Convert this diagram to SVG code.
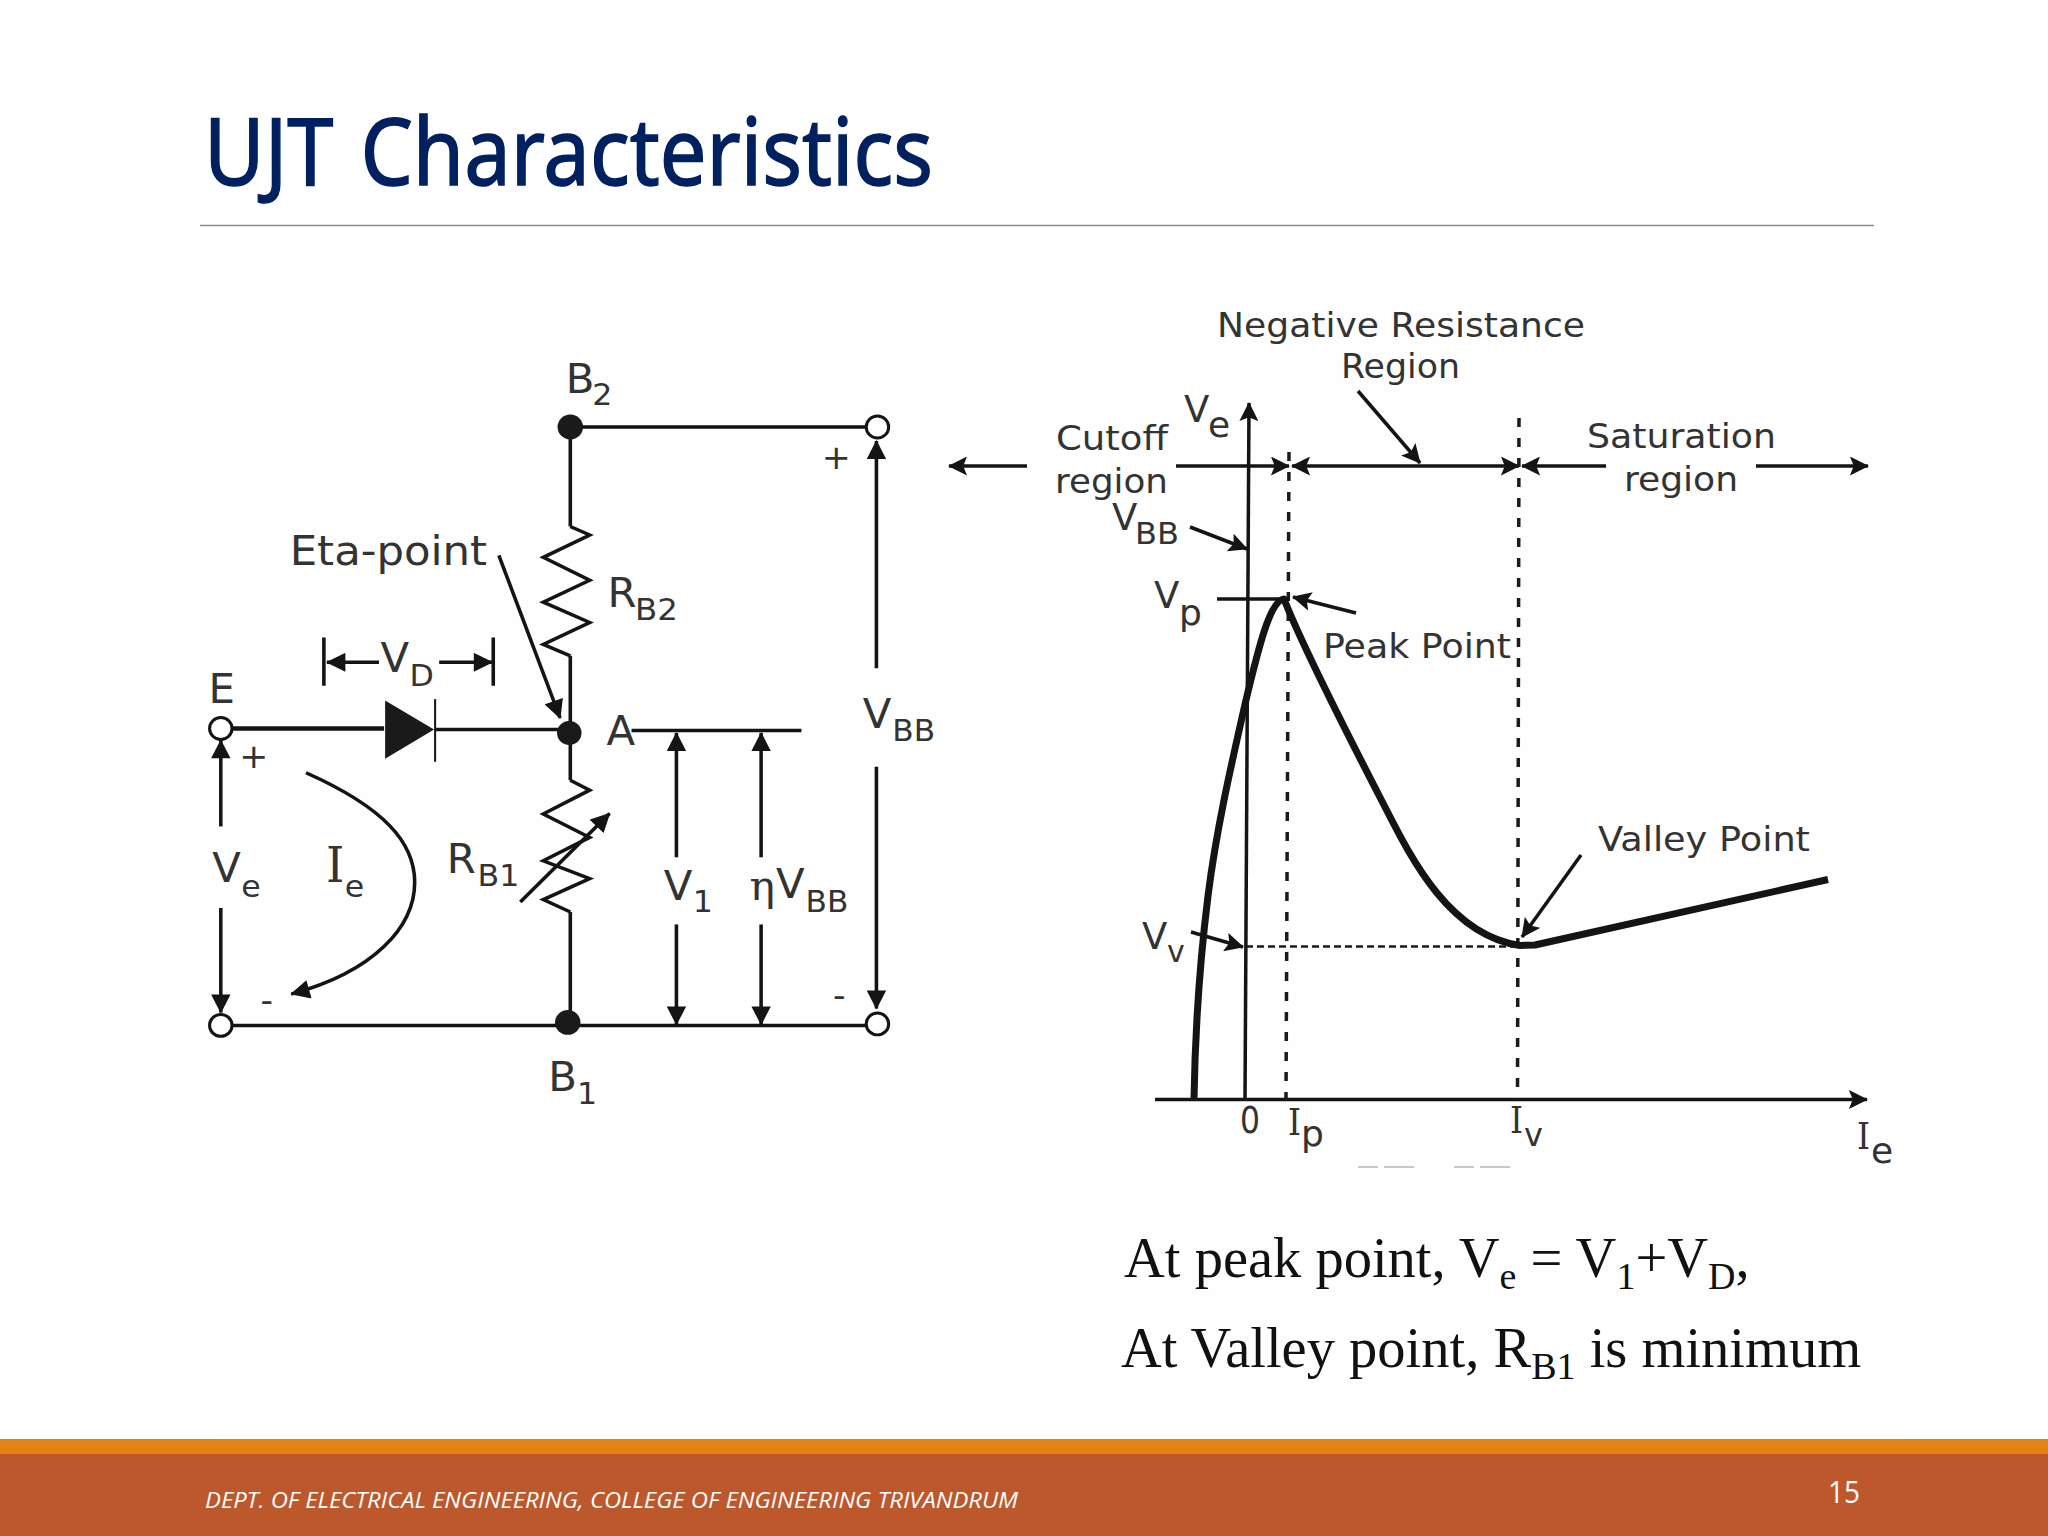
<svg xmlns="http://www.w3.org/2000/svg" width="2048" height="1536" viewBox="0 0 2048 1536">
<style>
.ln{fill:none;stroke:#141414;stroke-width:3.5}
.thk{fill:none;stroke:#141414;stroke-width:7;stroke-linejoin:round}
.ds{fill:none;stroke:#1a1a1a;stroke-width:3.5;stroke-dasharray:9 11}
.ds2{fill:none;stroke:#1a1a1a;stroke-width:2.5;stroke-dasharray:7 4}
.c{fill:none;stroke:#141414;stroke-width:7}
.cf{fill:none;stroke:#141414;stroke-width:9}
.term{fill:#fff;stroke:#141414;stroke-width:6}
.dot{fill:#1a1a1a}
.t{font-family:"DejaVu Sans",sans-serif;fill:#333;font-size:34px}
.s{font-size:28px}
.ct{font-family:"DejaVu Sans",sans-serif;fill:#333;font-size:82px}
.cs{font-size:62px}
.ser{font-family:"DejaVu Serif",serif}
.eq{font-family:"Liberation Serif",serif;fill:#111;font-size:56.500px}
.sub{font-size:38px}
</style>
<defs>
<marker id="ah" viewBox="0 0 10 10" refX="9.5" refY="5" markerUnits="userSpaceOnUse" markerWidth="19" markerHeight="19" orient="auto-start-reverse"><path d="M0 0L10 5L0 10L2 5Z" fill="#141414"/></marker>
<marker id="ahc" viewBox="0 0 10 10" refX="9.5" refY="5" markerUnits="userSpaceOnUse" markerWidth="40" markerHeight="38" orient="auto-start-reverse"><path d="M0 0L10 5L0 10Z" fill="#141414"/></marker>
</defs>
<rect width="2048" height="1536" fill="#fff"/>
<rect x="222" y="280" width="1680" height="1159" fill="#fefefe"/>
<g id="title"><text x="204" y="185" textLength="729" lengthAdjust="spacingAndGlyphs" font-family="'Noto Sans',sans-serif" font-size="94" fill="#002060" stroke="#002060" stroke-width="1.500" word-spacing="6">UJT Characteristics</text></g>
<line id="rule" x1="200" y1="225.500" x2="1874" y2="225.500" stroke="#8a8a8a" stroke-width="1.500"/>

<g id="circuit" transform="translate(180 340) scale(.5102 .4974)">
<g id="connectors">
<path class="c" d="M765 175H1345M765 175V375M765 635V770M765 810V885M765 1150V1350"/>
<path class="c" d="M765 375L803 392L712 437L803 483L712 527L803 568L712 612L765 635"/>
<path class="c" d="M765 885L803 905L712 953L803 1000L712 1047L803 1083L712 1125L765 1150"/>
<path class="cf" d="M100 781H400"/>
<path class="c" d="M500 783H745M100 1378H1345M885 785H1218"/>
<path class="c" marker-end="url(#ahc)" d="M667 1130L842 952"/>
<path class="c" marker-end="url(#ahc)" d="M973 1040V790"/>
<path class="c" marker-end="url(#ahc)" d="M973 1175V1376"/>
<path class="c" marker-end="url(#ahc)" d="M1139 1040V790"/>
<path class="c" marker-end="url(#ahc)" d="M1139 1175V1376"/>
<path class="c" marker-end="url(#ahc)" d="M1365 660V203"/>
<path class="c" marker-end="url(#ahc)" d="M1365 858V1344"/>
<path class="c" marker-end="url(#ahc)" d="M80 978V805"/>
<path class="c" marker-end="url(#ahc)" d="M80 1142V1352"/>
<path class="c" marker-end="url(#ahc)" d="M390 648H288"/>
<path class="c" marker-end="url(#ahc)" d="M508 648H612"/>
<path class="c" d="M282 598V695M614 598V695"/>
<path class="c" marker-end="url(#ahc)" d="M625 433L745 760"/>
<path class="c" marker-end="url(#ahc)" d="M247 870C400 940 460 1010 460 1090C460 1180 380 1270 218 1315"/>
</g>
<g id="node-diode"><path d="M402 725V842L498 783Z" fill="#1a1a1a"/><path class="c" style="stroke-width:4" d="M500 722V848"/></g>
<g id="node-B2"><circle class="dot" cx="765" cy="175" r="25"/><text class="ct" x="756" y="107">B</text><text class="ct cs" x="808" y="130">2</text></g>
<g id="node-A"><circle class="dot" cx="763" cy="790" r="24"/><text class="ct" x="836" y="815">A</text></g>
<g id="node-B1"><circle class="dot" cx="760" cy="1372" r="25"/><text class="ct" x="722" y="1510">B</text><text class="ct cs" x="778" y="1535">1</text></g>
<g id="node-E"><circle class="term" cx="80" cy="781" r="22"/><text class="ct" x="56" y="730">E</text></g>
<g id="node-ground-left"><circle class="term" cx="80" cy="1378" r="22"/></g>
<g id="node-top-right"><circle class="term" cx="1367" cy="175" r="22"/></g>
<g id="node-bottom-right"><circle class="term" cx="1367" cy="1375" r="22"/></g>
<g id="labels">
<text class="ct" x="1258" y="260" style="font-size:68px">+</text>
<text class="ct" x="116" y="860" style="font-size:68px">+</text>
<text class="ct" x="158" y="1352" style="font-size:68px">-</text>
<text class="ct" x="1280" y="1340" style="font-size:68px">-</text>
<text class="ct" x="215" y="452" textLength="387" lengthAdjust="spacingAndGlyphs">Eta-point</text>
<text class="ct" x="838" y="537">R</text><text class="ct cs" x="892" y="562" textLength="84" lengthAdjust="spacingAndGlyphs">B2</text>
<text class="ct" x="1338" y="780">V</text><text class="ct cs" x="1396" y="806" textLength="84" lengthAdjust="spacingAndGlyphs">BB</text>
<text class="ct" x="393" y="668">V</text><text class="ct cs" x="450" y="695">D</text>
<text class="ct" x="63" y="1090">V</text><text class="ct cs" x="120" y="1120">e</text>
<text class="ct ser" x="286" y="1090" style="font-size:96px" textLength="36" lengthAdjust="spacingAndGlyphs">I</text><text class="ct cs" x="323" y="1120">e</text>
<text class="ct" x="523" y="1072">R</text><text class="ct cs" x="583" y="1098" textLength="82" lengthAdjust="spacingAndGlyphs">B1</text>
<text class="ct" x="948" y="1125">V</text><text class="ct cs" x="1005" y="1150">1</text>
<text class="ct" x="1116" y="1125" style="font-family:'DejaVu Serif',serif;font-size:82px" textLength="50" lengthAdjust="spacingAndGlyphs">η</text><text class="ct" x="1168" y="1122">V</text><text class="ct cs" x="1226" y="1150" textLength="84" lengthAdjust="spacingAndGlyphs">BB</text>
</g>
</g>

<g id="graph">
<g id="graph-connectors">
<path class="ln" marker-end="url(#ah)" d="M1245 1100L1249 403"/>
<path class="ln" marker-end="url(#ah)" d="M1155 1099.500H1867"/>
<path class="ln" marker-end="url(#ah)" d="M1027 466H949"/>
<path class="ln" marker-end="url(#ah)" d="M1176 466H1289"/>
<path class="ln" marker-start="url(#ah)" marker-end="url(#ah)" d="M1292 466H1519"/>
<path class="ln" marker-end="url(#ah)" d="M1606 466H1522"/>
<path class="ln" marker-end="url(#ah)" d="M1756 466H1868"/>
<path class="ds" d="M1289 452L1286 1100"/>
<path class="ds" d="M1519 418L1517.500 1100"/>
<path class="ds2" d="M1246 946.500H1517"/>
<path class="ln" marker-end="url(#ah)" d="M1358 391L1420 463"/>
<path class="ln" marker-end="url(#ah)" d="M1190 527L1247 549"/>
<path class="ln" d="M1217 599H1289"/>
<path class="ln" marker-end="url(#ah)" d="M1356 613L1293 597"/>
<path class="ln" marker-end="url(#ah)" d="M1191 932L1243 947"/>
<path class="ln" marker-end="url(#ah)" d="M1581 855L1522 937"/>
<path class="thk" d="M1194 1099C1195 1040 1200 960 1208 896S1230 770 1246 700C1258 650 1270 600 1284 599C1300 640 1340 720 1385 807C1412 860 1450 935 1520 945.500L1535 945L1828 879.500"/>
<path d="M1358 1167H1516" fill="none" stroke="#c8c8c8" stroke-width="2" stroke-dasharray="20 6 30 40"/>
</g>
<g id="graph-labels">
<text class="t" x="1217" y="337" textLength="368" lengthAdjust="spacingAndGlyphs">Negative Resistance</text>
<text class="t" x="1341" y="378" textLength="119" lengthAdjust="spacingAndGlyphs">Region</text>
<text class="t" x="1056" y="450" textLength="112" lengthAdjust="spacingAndGlyphs">Cutoff</text>
<text class="t" x="1055" y="493" textLength="113" lengthAdjust="spacingAndGlyphs">region</text>
<text class="t" x="1587" y="448" textLength="189" lengthAdjust="spacingAndGlyphs">Saturation</text>
<text class="t" x="1624" y="491" textLength="114" lengthAdjust="spacingAndGlyphs">region</text>
<text class="t" x="1184" y="422" style="font-size:37px">V</text><text class="t s" x="1208" y="437" style="font-size:36px">e</text>
<text class="t" x="1112" y="530" style="font-size:37px">V</text><text class="t s" x="1135" y="544" textLength="44" lengthAdjust="spacingAndGlyphs" style="font-size:30px">BB</text>
<text class="t" x="1154" y="608" style="font-size:37px">V</text><text class="t s" x="1179" y="625" style="font-size:36px">p</text>
<text class="t" x="1323" y="658" textLength="188" lengthAdjust="spacingAndGlyphs">Peak Point</text>
<text class="t" x="1142" y="949" style="font-size:37px">V</text><text class="t s" x="1167" y="962" style="font-size:30px">v</text>
<text class="t" x="1598" y="851" textLength="212" lengthAdjust="spacingAndGlyphs">Valley Point</text>
<text class="t" x="1240" y="1133" style="font-size:38px" textLength="20" lengthAdjust="spacingAndGlyphs">0</text>
<text class="t ser" x="1288" y="1135" style="font-size:38px" textLength="13" lengthAdjust="spacingAndGlyphs">I</text><text class="t s" x="1301" y="1146" style="font-size:36px">p</text>
<text class="t ser" x="1510" y="1133" style="font-size:38px" textLength="13" lengthAdjust="spacingAndGlyphs">I</text><text class="t s" x="1524" y="1146" style="font-size:32px">v</text>
<text class="t ser" x="1857" y="1149" style="font-size:38px" textLength="13" lengthAdjust="spacingAndGlyphs">I</text><text class="t s" x="1871" y="1163" style="font-size:36px">e</text>
</g>
</g>

<g id="equations">
<text class="eq" x="1124" y="1277">At peak point, V<tspan class="sub" dy="12">e</tspan><tspan dy="-12"> = V</tspan><tspan class="sub" dy="12">1</tspan><tspan dy="-12">+V</tspan><tspan class="sub" dy="12">D</tspan><tspan dy="-12">,</tspan></text>
<text class="eq" x="1121" y="1367">At Valley point, R<tspan class="sub" dy="12">B1</tspan><tspan dy="-12"> is minimum</tspan></text>
</g>

<g id="footer">
<rect y="1439" width="2048" height="15" fill="#e48312"/>
<rect y="1454" width="2048" height="82" fill="#bd582c"/>
<text x="205" y="1508" textLength="813" lengthAdjust="spacingAndGlyphs" font-family="'Open Sans',sans-serif" font-style="italic" font-size="22" fill="#fff">DEPT. OF ELECTRICAL ENGINEERING, COLLEGE OF ENGINEERING TRIVANDRUM</text>
<text x="1828" y="1503" textLength="32" lengthAdjust="spacingAndGlyphs" font-family="'Open Sans',sans-serif" font-size="31" fill="#fff">15</text>
</g>
</svg>
